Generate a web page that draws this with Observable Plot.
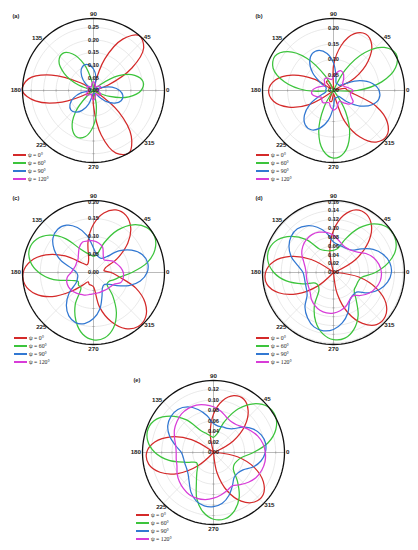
<!DOCTYPE html>
<html><head><meta charset="utf-8">
<script src="https://cdn.jsdelivr.net/npm/d3@7"></script>
<script src="https://cdn.jsdelivr.net/npm/@observablehq/plot@0.6"></script>
<style>
body{margin:0;background:#fff;}
#wrap{position:relative;width:418px;height:550px;overflow:hidden;}
.panel{position:absolute;}
.legend{position:absolute;font-family:"Liberation Serif","Times New Roman",serif;font-size:5.8px;color:#222;}
.row{position:absolute;left:0;white-space:nowrap;height:8px;line-height:8px;}
.sw{position:absolute;left:0;top:3.4px;width:13px;height:1.3px;}
.lab{position:absolute;left:15px;top:0;}
</style></head><body><div id="wrap"></div>
<script>
// azimuth angles (degrees) at which values were read
const theta = [0,10,20,30,40,50,60,70,80,90,100,110,120,130,140,150,160,170,180,190,200,210,220,230,240,250,260,270,280,290,300,310,320,330,340,350];
const series = ["ψ = 0°","ψ = 60°","ψ = 90°","ψ = 120°"];
const colors = ["#d42a2a","#3cc43c","#3278d2","#d83cd8"];
const angleTicks = [0,45,90,135,180,225,270,315];

// radial tick values per panel
const ticksA = [0,0.05,0.10,0.15,0.20,0.25];
const ticksB = [0,0.05,0.10,0.15,0.20];
const ticksC = [0,0.05,0.10,0.15,0.20];
const ticksD = [0,0.02,0.04,0.06,0.08,0.10,0.12,0.14,0.16];
const ticksE = [0,0.02,0.04,0.06,0.08,0.10,0.12];

// panel (a)
const a0   = [0,0,0.061,0.178,0.263,0.284,0.235,0.133,0.016,0,0,0,0,0,0,0.061,0.179,0.265,0.286,0.237,0.134,0.016,0,0,0,0,0,0.061,0.179,0.264,0.285,0.236,0.133,0.016,0,0];
const a60  = [0.191,0.202,0.176,0.117,0.035,0,0,0,0,0,0.034,0.111,0.167,0.192,0.181,0.136,0.066,0,0,0,0,0,0.034,0.113,0.171,0.196,0.185,0.139,0.067,0,0,0,0,0,0.069,0.144];
const a90  = [0.105,0.076,0.037,0.012,0.012,0.012,0.012,0.019,0.056,0.085,0.103,0.108,0.098,0.074,0.042,0.012,0.012,0.012,0.012,0.049,0.085,0.109,0.119,0.112,0.091,0.057,0.016,0.012,0.012,0.012,0.012,0.029,0.069,0.100,0.118,0.120];
const a120 = [0.016,0.021,0.028,0.032,0.027,0.02,0.016,0.022,0.03,0.035,0.03,0.022,0.016,0.02,0.026,0.03,0.026,0.02,0.016,0.022,0.029,0.034,0.028,0.021,0.016,0.024,0.032,0.038,0.032,0.023,0.016,0.022,0.029,0.033,0.028,0.021];
// panel (b)
const b0   = [0.046,0.039,0.004,0.080,0.148,0.194,0.210,0.194,0.148,0.080,0,0.010,0.036,0.036,0.010,0.073,0.144,0.193,0.212,0.199,0.156,0.089,0.008,0,0.010,0.036,0.036,0.010,0.018,0.104,0.173,0.217,0.227,0.203,0.148,0.070];
const b60  = [0.077,0.160,0.216,0.236,0.216,0.160,0.077,0,0,0,0,0,0.054,0.136,0.195,0.221,0.210,0.163,0.089,0,0,0,0,0,0.062,0.141,0.196,0.218,0.203,0.154,0.079,0.006,0,0,0,0];
const b90  = [0.149,0.129,0.092,0.045,0.025,0.025,0.025,0.025,0.047,0.089,0.121,0.138,0.138,0.121,0.089,0.047,0.025,0.025,0.025,0.025,0.044,0.089,0.124,0.144,0.146,0.129,0.097,0.053,0.025,0.025,0.025,0.025,0.055,0.100,0.134,0.151];
const b120 = [0.064,0.05,0.038,0.034,0.04,0.052,0.064,0.068,0.058,0.044,0.036,0.04,0.047,0.046,0.038,0.033,0.04,0.056,0.07,0.071,0.058,0.044,0.05,0.052,0.045,0.042,0.054,0.063,0.058,0.044,0.04,0.052,0.068,0.074,0.062,0.056];
// panel (c)
const c0   = [0.05,0.03,0.035,0.077,0.126,0.163,0.183,0.185,0.168,0.134,0.088,0.04,0.03,0.028,0.04,0.092,0.143,0.180,0.198,0.196,0.174,0.134,0.081,0.045,0.03,0.035,0.036,0.040,0.097,0.145,0.180,0.196,0.192,0.168,0.127,0.075];
const c60  = [0.108,0.153,0.184,0.199,0.195,0.173,0.136,0.088,0.05,0.045,0.05,0.058,0.076,0.123,0.161,0.185,0.192,0.181,0.154,0.114,0.065,0.05,0.055,0.055,0.103,0.144,0.174,0.187,0.184,0.164,0.129,0.084,0.05,0.05,0.06,0.075];
const c90  = [0.151,0.155,0.146,0.124,0.093,0.057,0.045,0.045,0.05,0.068,0.104,0.133,0.152,0.157,0.149,0.128,0.098,0.061,0.048,0.045,0.048,0.056,0.090,0.119,0.139,0.148,0.144,0.128,0.103,0.070,0.05,0.045,0.05,0.072,0.106,0.134];
const c120 = [0.084,0.078,0.07,0.063,0.052,0.046,0.055,0.075,0.083,0.088,0.089,0.09,0.08,0.066,0.057,0.055,0.054,0.057,0.063,0.075,0.08,0.081,0.079,0.075,0.07,0.067,0.062,0.059,0.058,0.058,0.058,0.06,0.062,0.066,0.082,0.085];
// panel (d)
const d0   = [0.005,0,0.005,0.058,0.103,0.136,0.152,0.151,0.131,0.095,0.048,0,0,0,0.006,0.059,0.106,0.140,0.156,0.155,0.134,0.097,0.049,0,0,0,0,0,0.049,0.097,0.133,0.154,0.155,0.139,0.105,0.059];
const d60  = [0.096,0.128,0.152,0.162,0.160,0.144,0.116,0.081,0.055,0.05,0.05,0.053,0.060,0.097,0.127,0.148,0.157,0.153,0.137,0.110,0.075,0.048,0.046,0.052,0.088,0.119,0.141,0.152,0.151,0.137,0.113,0.081,0.062,0.06,0.06,0.065];
const d90  = [0.133,0.131,0.121,0.105,0.083,0.066,0.062,0.062,0.064,0.069,0.091,0.109,0.122,0.129,0.127,0.118,0.103,0.082,0.07,0.068,0.069,0.072,0.079,0.102,0.119,0.131,0.134,0.129,0.116,0.097,0.074,0.068,0.069,0.092,0.112,0.126];
const d120 = [0.110,0.106,0.098,0.086,0.072,0.065,0.063,0.065,0.073,0.084,0.092,0.097,0.099,0.097,0.092,0.084,0.073,0.066,0.063,0.063,0.064,0.066,0.070,0.079,0.086,0.091,0.093,0.092,0.088,0.082,0.073,0.069,0.081,0.094,0.103,0.109];
// panel (e)
const e0   = [0.004,0,0.004,0.044,0.079,0.104,0.117,0.115,0.100,0.073,0.036,0,0,0,0.005,0.049,0.087,0.115,0.129,0.127,0.110,0.080,0.040,0,0,0,0,0,0.039,0.078,0.107,0.123,0.125,0.111,0.084,0.047];
const e60  = [0.077,0.107,0.128,0.138,0.136,0.121,0.096,0.063,0.035,0.029,0.032,0.038,0.048,0.081,0.108,0.127,0.134,0.129,0.113,0.087,0.055,0.038,0.04,0.05,0.066,0.094,0.115,0.127,0.128,0.118,0.099,0.072,0.05,0.046,0.048,0.055];
const e90  = [0.100,0.102,0.098,0.089,0.075,0.059,0.053,0.052,0.051,0.055,0.071,0.087,0.100,0.107,0.107,0.102,0.090,0.074,0.062,0.059,0.059,0.06,0.064,0.073,0.087,0.098,0.103,0.103,0.098,0.087,0.073,0.062,0.061,0.066,0.081,0.093];
const e120 = [0.100,0.097,0.091,0.083,0.075,0.069,0.068,0.072,0.080,0.087,0.092,0.096,0.097,0.096,0.092,0.087,0.080,0.074,0.072,0.073,0.075,0.081,0.086,0.090,0.093,0.093,0.091,0.087,0.082,0.077,0.073,0.080,0.088,0.095,0.099,0.101];

const panels = [
  {label:"(a)", R:0.285, ticks:ticksA, data:[a0,a60,a90,a120], left:0,   top:0,   cx:93,  cy:90, lx:12, ly:14, leg:{x:13,  y:151}},
  {label:"(b)", R:0.232, ticks:ticksB, data:[b0,b60,b90,b120], left:209, top:0,   cx:124, cy:90, lx:46, ly:14, leg:{x:256, y:151}},
  {label:"(c)", R:0.200, ticks:ticksC, data:[c0,c60,c90,c120], left:0,   top:182, cx:93,  cy:90, lx:12, ly:14, leg:{x:14,  y:334}},
  {label:"(d)", R:0.163, ticks:ticksD, data:[d0,d60,d90,d120], left:209, top:182, cx:124, cy:90, lx:46, ly:14, leg:{x:256, y:334}},
  {label:"(e)", R:0.137, ticks:ticksE, data:[e0,e60,e90,e120], left:104, top:362, cx:109, cy:90, lx:29, ly:16, leg:{x:136, y:511}}
];

const rad = Math.PI/180;
const X = d => d.r*Math.cos(d.t*rad);
const Y = d => d.r*Math.sin(d.t*rad);
const circle = v => d3.range(0, 360, 3).map(t => ({t, r:v, v}));

const angleStyle = {
  0:{a:"start",dx:1.5,dy:0}, 45:{a:"start",dx:0,dy:-3}, 90:{a:"middle",dx:0,dy:-4.8},
  135:{a:"end",dx:-1,dy:-2}, 180:{a:"end",dx:-1.5,dy:0}, 225:{a:"middle",dx:-2,dy:4},
  270:{a:"middle",dx:0,dy:4.5}, 315:{a:"start",dx:0.5,dy:1.5}
};

function makePanel(p){
  const {R, ticks, data, cx, cy} = p;
  const RX = 71, RY = 72;
  const rows = [];
  data.forEach((arr,k) => arr.forEach((r,i) => rows.push({s:series[k], t:theta[i], r})));
  const inner = ticks.filter(v => v > 0 && v < R*0.995);
  const rings = inner.flatMap(circle);
  const tickMarks = inner.flatMap(v => [{x1:v,x2:v,y1:-R*0.016,y2:R*0.016},{x1:-v,x2:-v,y1:-R*0.016,y2:R*0.016},
                                        {y1:v,y2:v,x1:-R*0.016,x2:R*0.016},{y1:-v,y2:-v,x1:-R*0.016,x2:R*0.016}]);
  const angleMarks = angleTicks.map(a => Plot.text([a], {
    x: a => R*Math.cos(a*rad), y: a => R*Math.sin(a*rad), text: a => String(a),
    textAnchor: angleStyle[a].a, dx: angleStyle[a].dx, dy: angleStyle[a].dy,
    fontSize: 6.2, fontWeight: "bold", fill: "#222"
  }));
  const lowTicks = ticks.filter(v => v < R*0.99);
  const topTicks = ticks.filter(v => v >= R*0.99);
  return Plot.plot({
    width: 209, height: 185, margin: 0,
    x: {domain: [-R, R], range: [cx-RX, cx+RX], axis: null},
    y: {domain: [-R, R], range: [cy+RY, cy-RY], axis: null},
    color: {domain: series, range: colors},
    style: {background: "transparent", overflow: "visible", fontFamily: "Liberation Sans, Arial, sans-serif"},
    marks: [
      Plot.line(rings, {x: X, y: Y, z: "v", stroke: "#d2d2d2", strokeWidth: 0.5, curve: "linear-closed"}),
      Plot.link([45,135,225,315], {x1: 0, y1: 0, x2: a => R*Math.cos(a*rad), y2: a => R*Math.sin(a*rad), stroke: "#d2d2d2", strokeWidth: 0.5}),
      Plot.link([0,90], {x1: a => -R*Math.cos(a*rad), y1: a => -R*Math.sin(a*rad), x2: a => R*Math.cos(a*rad), y2: a => R*Math.sin(a*rad), stroke: "#8c8c8c", strokeWidth: 0.6}),
      Plot.link(tickMarks, {x1:"x1", x2:"x2", y1:"y1", y2:"y2", stroke: "#8c8c8c", strokeWidth: 0.5}),
      Plot.line(rows, {x: X, y: Y, z: "s", stroke: "s", strokeWidth: 1.25, curve: "catmull-rom-closed"}),
      Plot.line(circle(R), {x: X, y: Y, stroke: "#111", strokeWidth: 1.3, curve: "linear-closed"}),
      Plot.text(lowTicks, {x: 0, y: v => v, text: v => v.toFixed(2), fontSize: 5.6, fontWeight: "bold", fill: "#222"}),
      Plot.text(topTicks, {x: 0, y: v => v, text: v => v.toFixed(2), dy: 2.2, fontSize: 5.6, fontWeight: "bold", fill: "#222"}),
      ...angleMarks,
      Plot.text([p.label], {frameAnchor: "top-left", dx: p.lx, dy: p.ly, fontSize: 5.6, fontWeight: "bold", fill: "#222"})
    ]
  });
}

const wrap = document.getElementById("wrap");
panels.forEach(p => {
  const div = document.createElement("div");
  div.className = "panel";
  div.style.left = p.left + "px";
  div.style.top = p.top + "px";
  div.appendChild(makePanel(p));
  wrap.appendChild(div);
  const leg = document.createElement("div");
  leg.className = "legend";
  leg.style.left = p.leg.x + "px";
  leg.style.top = p.leg.y + "px";
  series.forEach((s,k) => {
    const row = document.createElement("div");
    row.className = "row";
    row.style.top = (k*8) + "px";
    row.innerHTML = `<div class="sw" style="background:${colors[k]}"></div><div class="lab">${s}</div>`;
    leg.appendChild(row);
  });
  wrap.appendChild(leg);
});
</script></body></html>
